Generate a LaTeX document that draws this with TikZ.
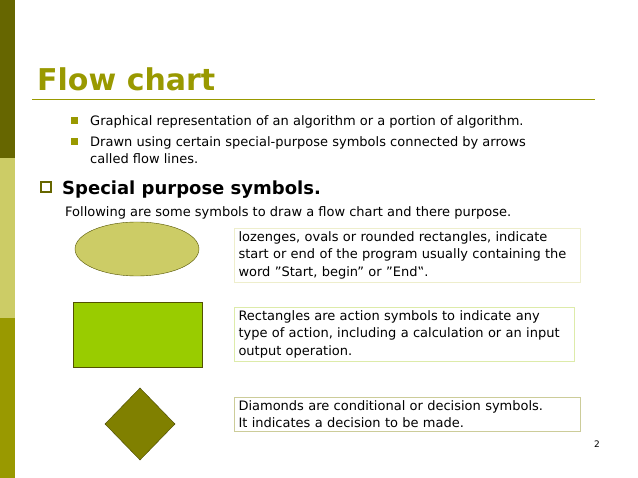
\documentclass[tikz,border=0pt]{standalone}
\usepackage{fontspec}
\setmainfont{DejaVu Sans}
\usetikzlibrary{shapes.geometric}
\definecolor{dol}{HTML}{666600}
\definecolor{lol}{HTML}{CCCC66}
\definecolor{mol}{HTML}{999900}
\definecolor{tit}{HTML}{999900}
\definecolor{grn}{HTML}{99CC00}
\definecolor{dia}{HTML}{808000}
\definecolor{bA}{HTML}{EEEECC}
\definecolor{bB}{HTML}{DDEBAA}
\definecolor{bC}{HTML}{CCCC99}
\begin{document}
\begin{tikzpicture}[x=1pt,y=-1pt,
  txt/.style={anchor=north west,inner sep=0pt,font=\fontsize{13}{17.5}\selectfont,align=left},
  tbox/.style={draw=#1,line width=1pt,anchor=north west,inner xsep=4pt,inner ysep=3pt,font=\fontsize{13}{17.5}\selectfont,align=left,text width=338pt}]
\useasboundingbox (0,0) rectangle (638,478);
\fill[white] (0,0) rectangle (638,478);
\fill[dol] (0,0) rectangle (15,158);
\fill[lol] (0,158) rectangle (15,318);
\fill[mol] (0,318) rectangle (15,478);
\node[anchor=base west,inner sep=0pt,text=tit,font=\fontsize{30}{30}\bfseries\selectfont] (title) at (37,91) {Flow chart};
\draw[tit,line width=1pt] (32,100) -- (595,100);
\fill[mol] (71,117) rectangle (78,124);
\node[txt] (b1) at (90,115) {Graphical representation of an algorithm or a portion of algorithm.};
\fill[mol] (71,138) rectangle (78,145);
\node[txt] (b2) at (90,136) {Drawn using certain special-purpose symbols connected by arrows\\called flow lines.};
\draw[dol,line width=1.5pt] (41,182) rectangle (51,192);
\node[anchor=base west,inner sep=0pt,font=\fontsize{18}{18}\bfseries\selectfont] (sp) at (62,195) {Special purpose symbols.};
\node[txt] (fol) at (65,206) {Following are some symbols to draw a flow chart and there purpose.};
\node[draw=dol!80!black,fill=lol,ellipse,minimum width=124pt,minimum height=54pt,inner sep=0pt] (ov) at (137,249) {};
\node[draw=dol!80!black,fill=grn,minimum width=129pt,minimum height=65pt,inner sep=0pt] (rc) at (137.5,334.5) {};
\filldraw[draw=dol!70!black,fill=dia] (140,388) coordinate (dt) -- (175,424) -- (140,460) -- (105,424) -- cycle;
\node[tbox=bA] (t1) at (234,228) {lozenges, ovals or rounded rectangles, indicate start or end of the program usually containing the word "Start, begin” or "End‟.};
\node[tbox=bB,text width=332pt] (t2) at (234,307) {Rectangles are action symbols to indicate any type of action, including a calculation or an input output operation.};
\node[tbox=bC] (t3) at (234,397) {Diamonds are conditional or decision symbols.\\It indicates a decision to be made.};
\node[anchor=base west,inner sep=0pt,font=\fontsize{9}{9}\selectfont] (pg) at (594,448) {2};
\end{tikzpicture}
\end{document}
